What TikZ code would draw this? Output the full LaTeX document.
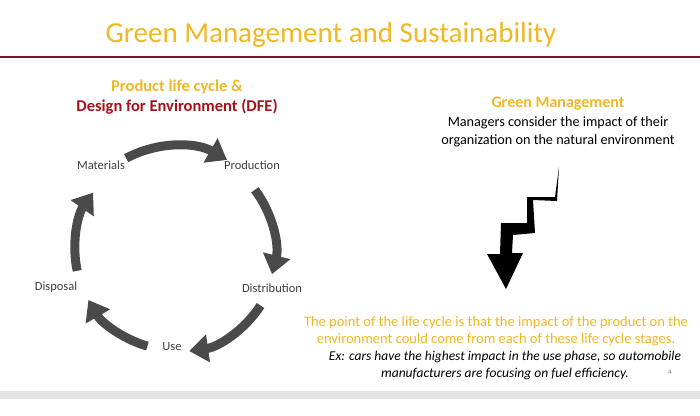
\documentclass[tikz,border=0pt]{standalone}
\usepackage{fontspec}
\setmainfont{Carlito}
\usetikzlibrary{arrows.meta}
\definecolor{gold}{HTML}{F0B825}
\definecolor{dred}{HTML}{A6121A}
\definecolor{rule}{HTML}{7B1A25}
\definecolor{arr}{HTML}{4A4A4A}
\tikzset{
  cyc/.style={line width=9pt, arr, -{Triangle[width=27pt,length=19pt]}},
  lab/.style={font=\fontsize{12.5}{14}\selectfont, text=black!75},
}
\begin{document}
\begin{tikzpicture}[x=1pt,y=-1pt]
\useasboundingbox (0,0) rectangle (700,415);
\fill[black!10] (0,0) rectangle (700,415);
\fill[white] (0,0) rectangle (700,391);
\fill[white] (0,399) rectangle (700,415);
\node (title) [font=\fontsize{29}{34}\selectfont, text=gold] at (331,35) {Green Management and Sustainability};
\draw[rule, line width=2.5pt] (0,57) -- (700,57);
\node (h1) [font=\bfseries\fontsize{16.5}{20}\selectfont, text=gold] at (177,87) {Product life cycle \&};
\node (h2) [font=\bfseries\fontsize{16.5}{20}\selectfont, text=dred] at (177,107) {Design for Environment (DFE)};
\coordinate (c) at (175,250);
\node (mat) [lab] at (101,165) {Materials};
\node (pro) [lab] at (252,165) {Production};
\node (dis) [lab] at (272,288) {Distribution};
\node (use) [lab] at (172,347) {Use};
\node (dsp) [lab] at (56,287) {Disposal};
\draw[cyc] ([shift={(-118:104)}]c) arc[start angle=-118,end angle=-60,radius=104];
\draw[cyc] ([shift={(-37:100)}]c) arc[start angle=-37,end angle=14,radius=100];
\draw[cyc] ([shift={(33:102)}]c) arc[start angle=33,end angle=82,radius=102];
\draw[cyc] ([shift={(106:100)}]c) arc[start angle=106,end angle=150,radius=100];
\draw[cyc] ([shift={(168:100)}]c) arc[start angle=168,end angle=215,radius=100];
\node (gm) [font=\bfseries\fontsize{16}{19}\selectfont, text=gold] at (558,104) {Green Management};
\node (gmt) [font=\fontsize{14.2}{18}\selectfont, align=center] at (558,132) {Managers consider the impact of their\\organization on the natural environment};
\fill (559,167) -- (555,197) -- (527,197) -- (527,223) -- (501,223) -- (500,254) -- (487,254) -- (506,289) -- (523,253) -- (512,253) -- (513,235) -- (535,233) -- (533,200) -- (557,201) -- cycle;
\node (pt) [font=\fontsize{14.5}{17}\selectfont, text=gold, align=center] at (496,331) {The point of the life cycle is that the impact of the product on the\\environment could come from each of these life cycle stages.};
\node (ex) [font=\itshape\fontsize{13.5}{17}\selectfont, align=center] at (505,365) {Ex: cars have the highest impact in the use phase, so automobile\\manufacturers are focusing on fuel efficiency.};
\node (pg) [font=\fontsize{7}{8}\selectfont, text=black!50] at (670,372) {4};
\end{tikzpicture}
\end{document}
